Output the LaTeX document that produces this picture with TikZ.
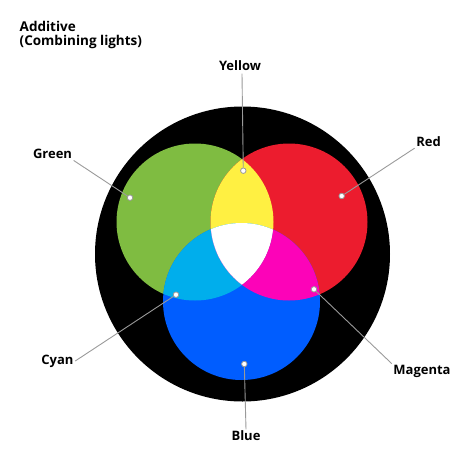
\documentclass[tikz,border=0pt]{standalone}
\usepackage{fontspec}
\setmainfont{Open Sans}
\definecolor{addgreen}{HTML}{7FBC41}
\definecolor{addred}{HTML}{EC1C2E}
\definecolor{addblue}{HTML}{005DFF}
\definecolor{addyellow}{HTML}{FFF042}
\definecolor{addcyan}{HTML}{00AEEC}
\definecolor{addmagenta}{HTML}{FC03B8}
\definecolor{leadgray}{HTML}{9A9A9A}
\begin{document}
\begin{tikzpicture}[x=1pt, y=-1pt,
    lbl/.style={font=\bfseries\fontsize{13}{14}\selectfont, inner sep=1.5pt},
    leader/.style={draw=leadgray, line width=0.9pt},
    dotmark/.style={circle, draw=leadgray, fill=white, line width=0.8pt, inner sep=0pt, minimum size=5.5pt}]
  \useasboundingbox (0,0) rectangle (475,461);
  \node (title) [lbl, font=\bfseries\fontsize{13.5}{14}\selectfont, anchor=north west, align=left] at (18,19.5) {Additive\\(Combining lights)};
  % backdrop and the three lights
  \fill[black] (242.5,254) circle (147.5);
  \coordinate (cg) at (195,222);
  \coordinate (cr) at (289,222);
  \coordinate (cb) at (241.5,301.5);
  \fill[addgreen] (cg) circle (78.5);
  \fill[addred] (cr) circle (78.5);
  \fill[addblue] (cb) circle (78.5);
  \begin{scope}
    \clip (cg) circle (78.5);
    \fill[addyellow] (cr) circle (78.5);
    \fill[addcyan] (cb) circle (78.5);
    \clip (cr) circle (78.5);
    \fill[white] (cb) circle (78.5);
  \end{scope}
  \begin{scope}
    \clip (cr) circle (78.5);
    \clip (cb) circle (78.5);
    \fill[addmagenta] (cg) circle (78.5) [even odd rule] (cr) circle (78.5);
  \end{scope}
  % labels
  \node (lyellow) [lbl] at (240,66) {Yellow};
  \node (lgreen) [lbl] at (52.5,154) {Green};
  \node (lred) [lbl] at (428.5,141.5) {Red};
  \node (lcyan) [lbl] at (57.5,361) {Cyan};
  \node (lmagenta) [lbl] at (422,371.5) {Magenta};
  \node (lblue) [lbl] at (246,436) {Blue};
  % marks
  \node (myellow) [dotmark] at (243.3,170.7) {};
  \node (mgreen) [dotmark] at (130,197.7) {};
  \node (mred) [dotmark] at (341.7,196) {};
  \node (mcyan) [dotmark] at (176,294.7) {};
  \node (mmagenta) [dotmark] at (314,289.3) {};
  \node (mblue) [dotmark] at (244.3,364) {};
  \draw[leader] (lyellow.south) ++(2,1) -- (myellow);
  \draw[leader] (lgreen.south east) -- (mgreen);
  \draw[leader] (lred.south west) -- (mred);
  \draw[leader] (lcyan.east) -- (mcyan);
  \draw[leader] (lmagenta.north west) -- (mmagenta);
  \draw[leader] (lblue.north) -- (mblue);
\end{tikzpicture}
\end{document}
